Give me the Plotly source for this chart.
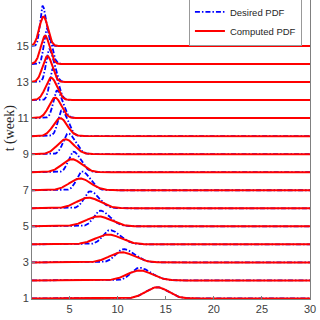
import numpy as np
import plotly.graph_objects as go

# ---- data ----
weeks = list(range(1, 16))
computed_mean = [14.1, 12.3, 10.45, 9.05, 8.0, 6.97, 6.1, 5.24, 4.6, 4.03, 3.5, 3.1, 2.71, 2.47, 2.3]
computed_sd = [1.15, 1.3, 1.28, 1.32, 1.3, 1.22, 1.1, 0.99, 0.87, 0.72, 0.63, 0.58, 0.5, 0.46, 0.44]
desired_mode = [14.1, 12.25, 10.6, 9.2, 8.2, 7.14, 6.3, 5.4, 4.85, 4.2, 3.7, 3.27, 2.89, 2.65, 2.2]
desired_sd_left = [1.15, 0.82, 0.78, 0.73, 0.66, 0.61, 0.55, 0.5, 0.5, 0.4, 0.38, 0.33, 0.32, 0.3, 0.26]
desired_sd_right = [1.15, 1.23, 1.16, 1.09, 0.99, 0.92, 0.82, 0.76, 0.74, 0.6, 0.56, 0.5, 0.47, 0.44, 0.39]
pdf_scale = 1.8
x_ticks = [5, 10, 15, 20, 25, 30]
y_ticks = [1, 3, 5, 7, 9, 11, 13, 15]

x = np.linspace(1.1, 30, 700)


def normal_pdf(xv, m, s):
    return np.exp(-0.5 * ((xv - m) / s) ** 2) / (s * np.sqrt(2 * np.pi))


def split_normal_pdf(xv, m, sl, sr):
    s = np.where(xv < m, sl, sr)
    return np.sqrt(2 / np.pi) / (sl + sr) * np.exp(-0.5 * ((xv - m) / s) ** 2)


fig = go.Figure()
for i, t in enumerate(weeks):
    yd = t + pdf_scale * split_normal_pdf(x, desired_mode[i], desired_sd_left[i], desired_sd_right[i])
    fig.add_trace(go.Scatter(
        x=x, y=yd, mode="lines",
        line=dict(color="#0000FF", width=1.8, dash="5px,2px,1.5px,2px"),
        name="Desired PDF", legendgroup="d", showlegend=(i == 0),
    ))
for i, t in enumerate(weeks):
    yc = t + pdf_scale * normal_pdf(x, computed_mean[i], computed_sd[i])
    fig.add_trace(go.Scatter(
        x=x, y=yc, mode="lines",
        line=dict(color="#FF0000", width=2),
        name="Computed PDF", legendgroup="c", showlegend=(i == 0),
    ))

axis_font = dict(family="Liberation Sans, Arial", size=11, color="#404040")
fig.update_layout(
    width=320, height=320,
    margin=dict(l=32, r=10, t=0, b=21, autoexpand=False),
    paper_bgcolor="white", plot_bgcolor="white",
    showlegend=True,
    legend=dict(
        x=0.971, xanchor="right", y=1.012, yanchor="top",
        bgcolor="white", bordercolor="#999999", borderwidth=1,
        font=dict(family="Liberation Sans, Arial", size=9.5, color="#262626"),
        tracegroupgap=0, itemwidth=30,
    ),
    xaxis=dict(
        range=[1.1, 30], tickvals=x_ticks, ticks="inside", ticklen=3,
        tickcolor="#808080", showline=True, linecolor="#808080", linewidth=1,
        showgrid=False, zeroline=False, tickfont=axis_font, mirror=False,
    ),
    yaxis=dict(
        range=[0.97, 17.55], tickvals=y_ticks, ticks="inside", ticklen=3,
        tickcolor="#808080", showline=True, linecolor="#808080", linewidth=1,
        showgrid=False, zeroline=False, tickfont=axis_font, mirror=True,
    ),
    annotations=[dict(
        text="t (week)", xref="paper", yref="paper", x=-0.078, y=0.572,
        xanchor="center", yanchor="middle", textangle=-90, showarrow=False,
        font=dict(family="Liberation Serif, Times New Roman", size=14, color="#262626"),
    )],
)

fig.write_html("out.html")
